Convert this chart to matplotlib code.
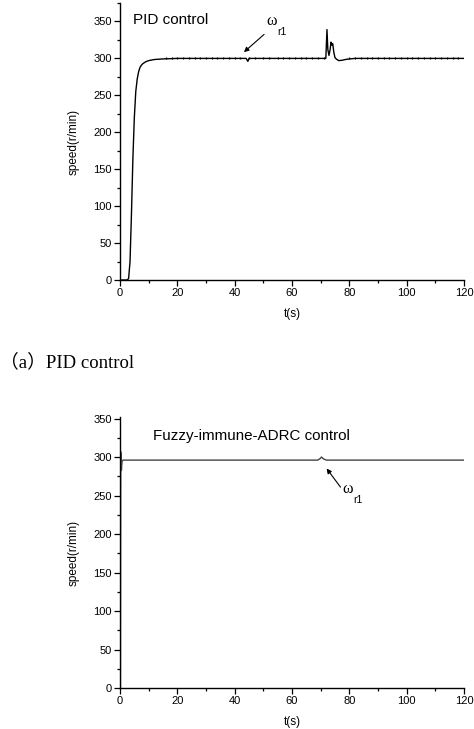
import matplotlib
matplotlib.use("Agg")
import matplotlib.pyplot as plt
from matplotlib.ticker import MultipleLocator

# ---- data ----
pid_t = [0, 2.5, 3.0, 3.5, 4.0, 4.5, 5.0, 5.5, 6.0, 6.5, 7.0, 7.5, 8.0, 9.0, 10, 12, 15, 18, 20,
         30, 44, 44.6, 45, 60, 71.8, 72.2, 72.5, 72.9, 73.3, 73.6, 73.9, 74.2, 74.6, 75.0, 75.5,
         76.3, 77.5, 79, 82, 90, 100, 120]
pid_v = [0, 0, 2, 25, 90, 165, 220, 255, 272, 282, 288, 291, 293, 295.5, 297, 298.5, 299.3, 299.7, 300,
         300, 300, 296, 300, 300, 300, 339, 312, 304, 312, 322, 318, 320, 308, 301, 299,
         297, 297.5, 298.8, 300, 300, 300, 300]
ripple_t = [16, 18, 20, 22, 24, 26, 28, 30, 32, 34, 36, 38, 40, 42, 45, 47, 50, 52, 55, 57, 59,
            61, 63, 65, 67, 69, 71, 80, 82, 84, 86, 88, 90, 92, 94, 96, 98, 100, 102, 104, 106,
            108, 110, 112, 114, 116, 118]

adrc_t = [0, 0.15, 0.25, 0.35, 0.5, 0.7, 1.0, 1.5, 20, 69.0, 69.8, 70.3, 71.0, 72.0, 120]
adrc_v = [0, 0, 307, 300, 283, 294, 296, 296, 296, 296, 298, 300, 297.5, 296, 296]

x_ticks = [0, 20, 40, 60, 80, 100, 120]
y_ticks = [0, 50, 100, 150, 200, 250, 300, 350]

plt.rcParams['font.family'] = ['Liberation Sans', 'DejaVu Sans']

fig = plt.figure(figsize=(4.74, 7.29), dpi=100)
W, H = 474, 729

def style(ax, ylim):
    ax.set_xlim(0, 120)
    ax.set_ylim(*ylim)
    ax.spines['top'].set_visible(False)
    ax.spines['right'].set_visible(False)
    ax.spines['left'].set_linewidth(1.0)
    ax.spines['bottom'].set_linewidth(1.0)
    ax.set_xticks(x_ticks)
    ax.set_yticks(y_ticks)
    ax.xaxis.set_minor_locator(MultipleLocator(10))
    ax.yaxis.set_minor_locator(MultipleLocator(25))
    ax.tick_params(which='major', direction='out', length=4, width=0.9, labelsize=8, pad=2)
    ax.tick_params(which='minor', direction='out', length=2.5, width=0.9)
    ax.set_xlabel('t(s)', fontsize=8.5, labelpad=7)
    ax.set_ylabel('speed(r/min)', fontsize=8.5, labelpad=10)

# top axes: x 120..464 px, y 3..280 px
ax1 = fig.add_axes([120 / W, 1 - 280 / H, 344 / W, 277 / H])
style(ax1, (0, 375))
ax1.plot(pid_t, pid_v, color='black', lw=1.0)
ax1.plot(ripple_t, [301] * len(ripple_t), linestyle='none', marker='|', ms=1.6, mew=0.9, color='black')
ax1.text(4.5, 347, 'PID control', fontsize=11)
ax1.annotate('', xy=(42.5, 306), xytext=(51, 335),
             arrowprops=dict(arrowstyle='-|>', color='black', lw=0.8, mutation_scale=7))
ax1.text(51.0, 340, 'ω', fontsize=11.5, ha='left', va='bottom', family=['Liberation Serif'])
ax1.text(54.8, 343, 'r1', fontsize=7.5, ha='left', va='top')

# caption
fig.text(0 / W, 1 - 362 / H, '（a）PID control', fontsize=13.5,
         family=['Liberation Serif', 'Noto Sans CJK SC'], va='center', ha='left')

# bottom axes: x 120..464, y 417..688
ax2 = fig.add_axes([120 / W, 1 - 688 / H, 344 / W, 271 / H])
style(ax2, (0, 352))
ax2.plot(adrc_t, adrc_v, color='#444444', lw=1.0)
ax2.text(11.5, 322, 'Fuzzy-immune-ADRC control', fontsize=10.9)
ax2.annotate('', xy=(71.5, 288), xytext=(77.5, 258),
             arrowprops=dict(arrowstyle='-|>', color='black', lw=0.8, mutation_scale=7))
ax2.text(77.5, 248, 'ω', fontsize=11.5, ha='left', va='bottom', family=['Liberation Serif'])
ax2.text(81.3, 251, 'r1', fontsize=7.5, ha='left', va='top')

fig.savefig('out.png', dpi=100)
